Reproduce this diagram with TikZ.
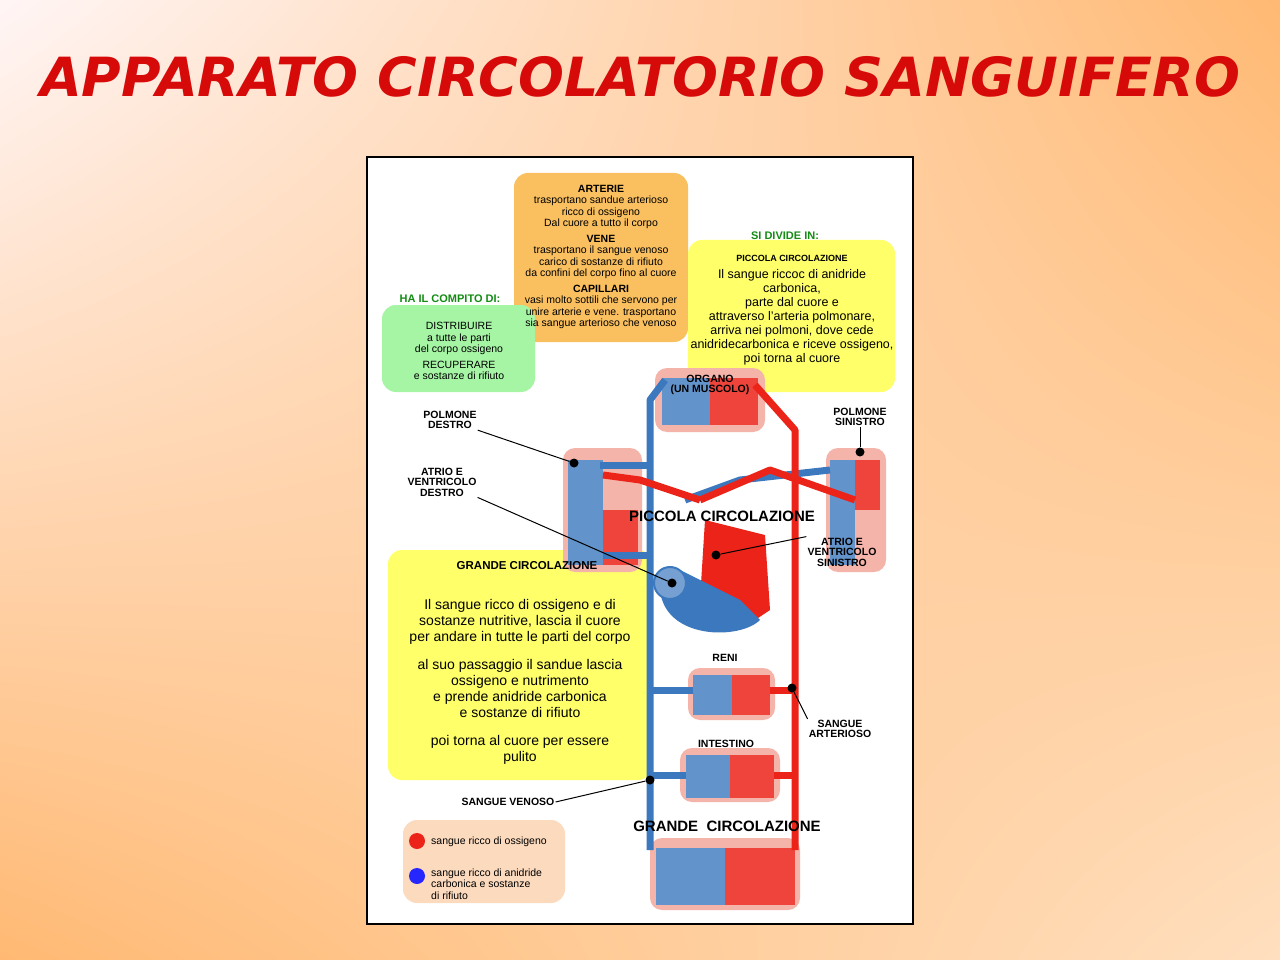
\documentclass[tikz,border=0pt]{standalone}
\usepackage{fontspec}
\setmainfont{Liberation Sans}
\newfontfamily\titlefont{DejaVu Sans}
\usetikzlibrary{positioning,shadings}
\definecolor{titlered}{RGB}{215,10,10}
\definecolor{boxorange}{RGB}{250,192,95}
\definecolor{boxyellow}{RGB}{255,255,105}
\definecolor{boxgreen}{RGB}{165,245,165}
\definecolor{boxpeach}{RGB}{252,218,190}
\definecolor{organpink}{RGB}{245,180,170}
\definecolor{veinblue}{RGB}{60,120,190}
\definecolor{arteryred}{RGB}{235,35,25}
\definecolor{headgreen}{RGB}{20,140,20}
\tikzset{
  infobox/.style={rounded corners=14pt, draw=none},
  txt/.style={align=center, font=\fontsize{10.5}{11.5}\selectfont, inner sep=1pt},
  bigtxt/.style={align=center, font=\fontsize{14}{16}\selectfont, inner sep=1pt},
  lbl/.style={align=center, font=\bfseries\fontsize{10.5}{10.5}\selectfont, inner sep=1pt},
  head/.style={font=\bfseries\fontsize{11}{12}\selectfont, text=headgreen, inner sep=1pt},
  organ/.style={fill=organpink, rounded corners=12pt},
  vein/.style={veinblue, line width=7pt, line join=round},
  artery/.style={arteryred, line width=7pt, line join=round},
  pointer/.style={black, line width=1pt},
  dot/.style={circle, fill=black, inner sep=0pt, minimum size=9pt}
}
\begin{document}
\begin{tikzpicture}[x=1pt,y=-1pt]
\useasboundingbox (0,0) rectangle (1280,960);
\shade[upper left=pink!15, upper right=orange!55, lower left=orange!55, lower right=orange!25]
  (0,0) rectangle (1280,960);
\node[font=\titlefont\bfseries\itshape\fontsize{54}{54}\selectfont, text=titlered] (title) at (640,77)
  {APPARATO CIRCOLATORIO SANGUIFERO};
% panel
\draw[fill=white, line width=1.2pt] (367,157) rectangle (913,924);
% info boxes
\fill[infobox, boxorange] (514,173) rectangle (688,342);
\fill[infobox, boxyellow] (688,240) rectangle (895,392);
\fill[infobox, boxgreen] (382,305) rectangle (535,392);
\fill[infobox, boxyellow] (388,550) rectangle (652,780);
\fill[infobox, boxpeach] (403,820) rectangle (565,903);
% organs
\fill[organ] (655,368) rectangle (765,432);
\fill[organ] (563,448) rectangle (642,572);
\fill[organ] (826,448) rectangle (886,572);
\fill[organ] (688,668) rectangle (775,720);
\fill[organ] (680,748) rectangle (780,802);
\fill[organ] (650,838) rectangle (800,910);
% capillary beds
\foreach \xa/\ya/\xb/\yb in {662/378/710/425, 568/460/603/565, 830/460/855/565,
                             693/675/732/715, 686/755/730/798, 656/848/725/905}
  \fill[veinblue!80] (\xa,\ya) rectangle (\xb,\yb);
\foreach \xa/\ya/\xb/\yb in {710/378/758/425, 603/510/638/565, 855/460/880/510,
                             732/675/770/715, 730/755/774/798, 725/848/795/905}
  \fill[arteryred!85] (\xa,\ya) rectangle (\xb,\yb);
% vessels
\draw[vein] (665,380) -- (650,400) -- (650,850);
\draw[vein] (600,465) -- (650,465);
\draw[vein] (603,555) -- (650,555);
\draw[vein] (650,690) -- (693,690);
\draw[vein] (650,775) -- (686,775);
\draw[vein] (685,500) -- (740,480) -- (830,470);
\draw[artery] (755,385) -- (795,430) -- (795,850);
\draw[artery] (700,500) -- (640,480) -- (603,475);
\draw[artery] (700,500) -- (770,470) -- (855,500);
\draw[artery] (770,690) -- (795,690);
\draw[artery] (774,775) -- (795,775);
% heart
\fill[arteryred] (705,520) -- (765,535) -- (770,610) -- (740,630) -- (700,600) -- cycle;
\fill[veinblue] (660,590) .. controls (665,640) and (740,640) .. (760,620)
  -- (740,600) -- (680,570) -- cycle;
\draw[veinblue, line width=2pt, fill=veinblue!70] (670,583) circle (16pt);
% labels
\node[lbl] (lungdx) at (450,420) {POLMONE\\DESTRO};
\node[lbl] (lungsx) at (860,417) {POLMONE\\SINISTRO};
\node[lbl] (organo) at (710,385) {ORGANO\\(UN MUSCOLO)};
\node[lbl] (atriodx) at (442,482) {ATRIO E\\VENTRICOLO\\DESTRO};
\node[lbl] (atriosx) at (842,552) {ATRIO E\\VENTRICOLO\\SINISTRO};
\node[lbl, font=\bfseries\fontsize{15}{15}\selectfont] (piccola) at (722,516) {PICCOLA CIRCOLAZIONE};
\node[lbl, font=\bfseries\fontsize{15}{15}\selectfont] (grande) at (727,826) {GRANDE\ \ CIRCOLAZIONE};
\node[lbl] (reni) at (725,658) {RENI};
\node[lbl] (intestino) at (726,744) {INTESTINO};
\node[lbl] (arterioso) at (840,729) {SANGUE\\ARTERIOSO};
\node[lbl] (venoso) at (508,802) {SANGUE VENOSO};
% pointers
\node[dot] (dlungdx) at (574,463) {};
\node[dot] (dlungsx) at (860,452) {};
\node[dot] (datriodx) at (672,583) {};
\node[dot] (datriosx) at (716,555) {};
\node[dot] (darterioso) at (792,688) {};
\node[dot] (dvenoso) at (650,780) {};
\draw[pointer] (lungdx.south east) -- (dlungdx);
\draw[pointer] (lungsx.south) -- (dlungsx);
\draw[pointer] (atriodx.south east) -- (datriodx);
\draw[pointer] (atriosx.north west) -- (datriosx);
\draw[pointer] (arterioso.north west) -- (darterioso);
\draw[pointer] (venoso.east) -- (dvenoso);
% box texts
\node[txt] (arterie) at (601,257) {\textbf{ARTERIE}\\trasportano sandue arterioso\\ricco di ossigeno\\Dal cuore a tutto il corpo\\[4pt]
  \textbf{VENE}\\trasportano il sangue venoso\\carico di sostanze di rifiuto\\da confini del corpo fino al cuore\\[4pt]
  \textbf{CAPILLARI}\\vasi molto sottili che servono per\\unire arterie e vene. trasportano\\sia sangue arterioso che venoso};
\node[head] (divide) at (785,236) {SI DIVIDE IN:};
\node[bigtxt, font=\fontsize{12.5}{14}\selectfont] (piccolatxt) at (792,310) {\textbf{\small PICCOLA CIRCOLAZIONE}\\[3pt]Il sangue riccoc di anidride\\carbonica,\\parte dal cuore e\\attraverso l'arteria polmonare,\\arriva nei polmoni, dove cede\\anidridecarbonica e riceve ossigeno,\\poi torna al cuore};
\node[head] (compito) at (450,299) {HA IL COMPITO DI:};
\node[txt] (distrib) at (459,351) {DISTRIBUIRE\\a tutte le parti\\del corpo ossigeno\\[4pt]RECUPERARE\\e sostanze di rifiuto};
\node[lbl, font=\bfseries\fontsize{11.5}{11.5}\selectfont] (grandetit) at (527,566) {GRANDE CIRCOLAZIONE};
\node[bigtxt] (grandetxt) at (520,682) {Il sangue ricco di ossigeno e di\\sostanze nutritive, lascia il cuore\\per andare in tutte le parti del corpo\\[12pt]
  al suo passaggio il sandue lascia\\ossigeno e nutrimento\\e prende anidride carbonica\\e sostanze di rifiuto\\[12pt]poi torna al cuore per essere\\pulito};
% legend
\fill[arteryred] (417,841) circle (8pt);
\fill[blue!85] (417,876) circle (8pt);
\node[txt, anchor=west] (legred) at (430,842) {sangue ricco di ossigeno};
\node[txt, anchor=west, align=left] (legblue) at (430,884) {sangue ricco di anidride\\carbonica e sostanze\\di rifiuto};
\end{tikzpicture}
\end{document}
